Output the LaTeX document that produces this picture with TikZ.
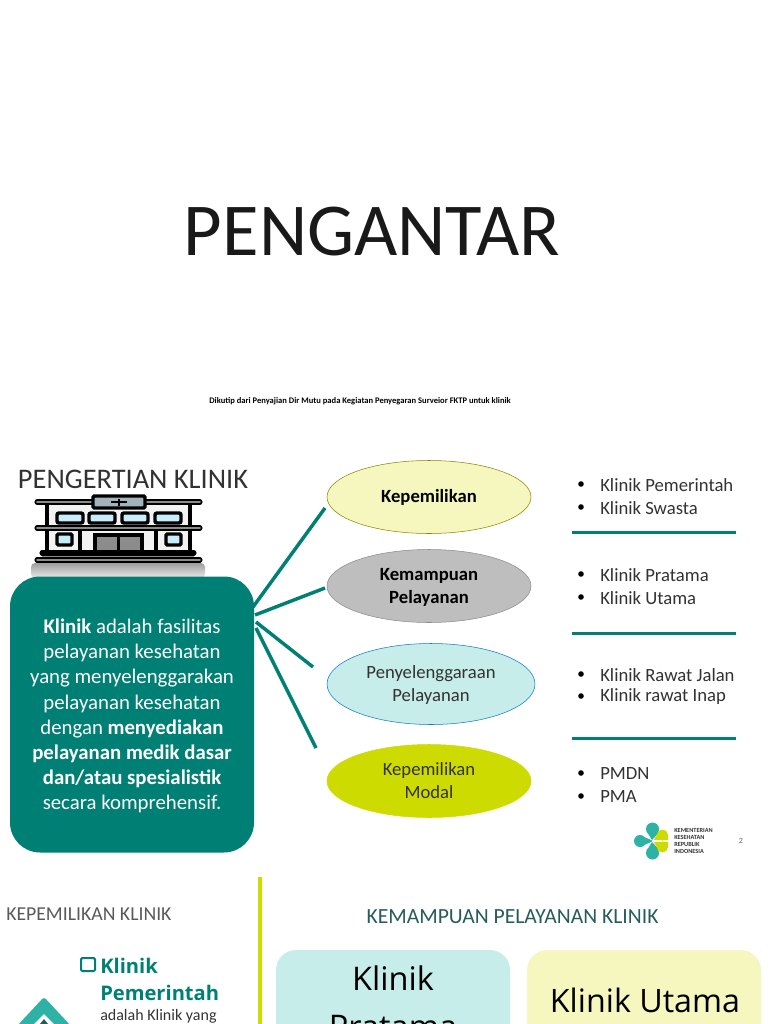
\documentclass[tikz,border=0pt]{standalone}
\usepackage{fontspec}
\setmainfont{Carlito}
\newfontfamily\comicfont{Open Sans}
\usetikzlibrary{positioning,shapes.geometric}
\definecolor{tealbox}{RGB}{0,128,116}
\definecolor{tealtitle}{RGB}{38,92,92}
\definecolor{paleyellow}{RGB}{246,247,190}
\definecolor{palecyan}{RGB}{198,237,234}
\definecolor{limeoval}{RGB}{205,219,0}
\definecolor{greyoval}{RGB}{190,190,190}
\definecolor{logoteal}{RGB}{45,178,165}
\definecolor{textgrey}{RGB}{50,50,50}
\newlength{\pxu}
\setlength{\pxu}{0.75pt}
\tikzset{
  oval/.style={ellipse,draw,minimum width=204\pxu,minimum height=73\pxu,align=center,inner sep=0pt,font=\fontsize{14}{17.25}\selectfont},
  ovallabel/.style={align=center,inner sep=0pt,font=\fontsize{14}{17.25}\selectfont},
  itemtext/.style={anchor=west,text=textgrey,inner sep=0pt,font=\fontsize{14}{16}\selectfont},
  itemdot/.style={circle,fill=black,inner sep=0pt,minimum size=4.2pt},
  rule/.style={draw=tealbox,line width=2pt},
  spoke/.style={draw=tealbox,line width=2.6pt},
  iconline/.style={draw=black,line width=2.6pt},
  beam/.style={draw=black,line width=3.8pt,line cap=round},
  beamcore/.style={draw=black!45,line width=1.2pt,line cap=round},
}
\begin{document}
\begin{tikzpicture}[x=0.75pt,y=-0.75pt]
\useasboundingbox (0,0) rectangle (768,1024);
% title
\node[font=\fontsize{56}{60}\selectfont,text=black!90] (title) at (372,232) {PENGANTAR};
\node[font=\bfseries\fontsize{6.4}{7}\selectfont] (source) at (360,401) {Dikutip dari Penyajian Dir Mutu pada Kegiatan Penyegaran Surveior FKTP untuk klinik};
\node[font=\fontsize{21.3}{24}\selectfont,text=textgrey] (pengertian) at (133,479) {PENGERTIAN KLINIK};
% hospital icon
\shade[top color=black!38,bottom color=black!8,rounded corners=3pt] (31,563) rectangle (205,578);
\fill[black!5] (48,504) rectangle (190,552);
\fill[black!45] (42,550) rectangle (194,557);
\draw[iconline] (47,504) -- (47,552) (190,504) -- (190,552) (80,530) -- (80,552) (156,530) -- (156,552);
\foreach \xpos in {57,89,122,155} {
  \draw[iconline,fill=cyan!22,rounded corners=1.5pt] (\xpos,513) rectangle ++(26,10);
}
\foreach \xpos in {57,166} {
  \draw[iconline,fill=cyan!22,rounded corners=1pt] (\xpos,534) rectangle ++(15,11);
}
\draw[iconline,fill=black!45] (95,535) rectangle (142,552);
\draw[iconline] (118.5,535) -- (118.5,552);
\foreach \ypos in {502,528,560} {
  \draw[beam] (37,\ypos) -- (200,\ypos);
  \draw[beamcore] (37,\ypos) -- (200,\ypos);
}
\draw[beam] (42,553) -- (194,553);
\draw[iconline,fill=cyan!35!black!45,rounded corners=1pt] (93,496) rectangle (145,508);
\draw[line width=1.6pt] (111,502) -- (127,502) (119,498.5) -- (119,505.5);
% definition box
\node[fill=tealbox,rounded corners=30\pxu,minimum width=244\pxu,minimum height=276\pxu,inner sep=0pt] (klinik) at (132,714.5) {};
\node[text=white,align=center,inner sep=0pt,font=\fontsize{15.6}{18.9}\selectfont] (klinikdef) at (132,716) {%
\textbf{Klinik} adalah fasilitas\\ pelayanan kesehatan\\ yang menyelenggarakan\\ pelayanan kesehatan\\ dengan \textbf{menyediakan}\\ \textbf{pelayanan medik dasar}\\ \textbf{dan/atau spesialistik}\\ secara komprehensif.};
% ovals
\node[oval,draw=olive,fill=paleyellow] (kepemilikan) at (429,497) {};
\node[ovallabel,font=\bfseries\fontsize{14}{17.25}\selectfont] (kepemilikanlabel) at (429,497.5) {Kepemilikan};
\node[oval,draw=black!45,fill=greyoval] (kemampuan) at (429,586) {};
\node[ovallabel,font=\bfseries\fontsize{14}{17.25}\selectfont] (kemampuanlabel) at (429,587) {Kemampuan\\Pelayanan};
\node[oval,draw=cyan!60!blue,fill=palecyan,minimum width=208\pxu,minimum height=81\pxu] (penyelenggaraan) at (431,684) {};
\node[ovallabel,text=textgrey] (penyelenggaraanlabel) at (431,685) {Penyelenggaraan\\Pelayanan};
\node[oval,draw=limeoval,fill=limeoval,text=textgrey] (modal) at (429,781) {Kepemilikan\\Modal};
% connectors
\coordinate (k1) at (253,607);
\coordinate (k2) at (255,615);
\coordinate (k3) at (256,622);
\coordinate (k4) at (256,628);
\coordinate (e1) at (325,508);
\coordinate (e2) at (325,588);
\coordinate (e3) at (313,667);
\coordinate (e4) at (316,748);
\draw[spoke] (k1) -- (e1);
\draw[spoke] (k2) -- (e2);
\draw[spoke] (k3) -- (e3);
\draw[spoke] (k4) -- (e4);
% lists
\foreach \ypos/\itemlabel in {484/Klinik Pemerintah,507/Klinik Swasta,574/Klinik Pratama,597/Klinik Utama,674/Klinik Rawat Jalan,696/Klinik rawat Inap,773/PMDN,796/PMA} {
  \node[itemdot] at (581,\ypos) {};
  \node[itemtext] at (600,\ypos+0.7) {\itemlabel};
}
\draw[rule] (572,532.5) -- (736,532.5);
\draw[rule] (572,633.5) -- (736,633.5);
\draw[rule] (572,738.5) -- (736,738.5);
% ministry logo
\fill[logoteal] (652.5,829) circle (6.5) (652.5,853) circle (6.5) (640,841) circle (6);
\fill[logoteal] (646.5,831) -- (658.5,833) -- (652,840) -- cycle;
\fill[logoteal] (646.5,851) -- (658.5,849) -- (652,842) -- cycle;
\fill[logoteal] (640,835) -- (652,840.5) -- (652,841.5) -- (640,847) -- cycle;
\fill[limeoval] (662.5,835) circle (5.5) (662.5,847) circle (5.5);
\fill[limeoval] (659,830.5) -- (654,840) -- (668,840) -- (668,835) -- cycle;
\fill[limeoval] (659,851.5) -- (654,842) -- (668,842) -- (668,847) -- cycle;
\node[anchor=west,align=left,inner sep=0pt,text=textgrey,font=\bfseries\fontsize{4.7}{5.2}\selectfont] (ministry) at (674,841) {KEMENTERIAN\\KESEHATAN\\REPUBLIK\\INDONESIA};
\node[text=black!60,font=\fontsize{6}{7}\selectfont] (pagenum) at (741,841) {2};
% lower slide
\draw[draw=limeoval,line width=3pt] (260,877) -- (260,1024);
\node[anchor=west,inner sep=0pt,text=black!65,font=\fontsize{14.8}{17}\selectfont] (kepemilikanklinik) at (6,914) {KEPEMILIKAN KLINIK};
\node[text=tealtitle,font=\fontsize{16.2}{19}\selectfont] (kemampuanklinik) at (512.5,917) {KEMAMPUAN PELAYANAN KLINIK};
\draw[draw=tealbox,line width=1.5pt,rounded corners=1pt] (81,958) rectangle (95,971);
\node[anchor=west,inner sep=0pt,text=tealbox,font=\comicfont\bfseries\fontsize{15.1}{18}\selectfont] (klinikteal) at (100,966) {Klinik};
\node[anchor=west,inner sep=0pt,text=tealbox,font=\comicfont\bfseries\fontsize{15.1}{18}\selectfont] (pemerintah) at (100,993) {Pemerintah};
\node[anchor=west,inner sep=0pt,text=black!80,font=\fontsize{12}{14}\selectfont] (adalah) at (100,1016) {adalah Klinik yang};
\fill[logoteal,rounded corners=2pt] (44,997) -- (71,1026) -- (17,1026) -- cycle;
\fill[white] (44,1014) -- (56,1026) -- (32,1026) -- cycle;
\fill[tealtitle] (44,1019) -- (48,1024) -- (40,1024) -- cycle;
\begin{scope}
\clip (0,0) rectangle (768,1024);
\node[fill=palecyan,rounded corners=20\pxu,minimum width=234\pxu,minimum height=134\pxu,inner sep=0pt] (pratamabox) at (393,1017) {};
\node[fill=paleyellow,rounded corners=20\pxu,minimum width=234\pxu,minimum height=134\pxu,inner sep=0pt] (utamabox) at (644,1017) {};
\node[align=center,font=\comicfont\fontsize{24.4}{36}\selectfont,text=black,anchor=north] (pratama) at (393,961) {Klinik\\Pratama};
\node[font=\comicfont\fontsize{24.2}{30}\selectfont,text=black] (utama) at (645,1000) {Klinik Utama};
\end{scope}
\end{tikzpicture}
\end{document}
